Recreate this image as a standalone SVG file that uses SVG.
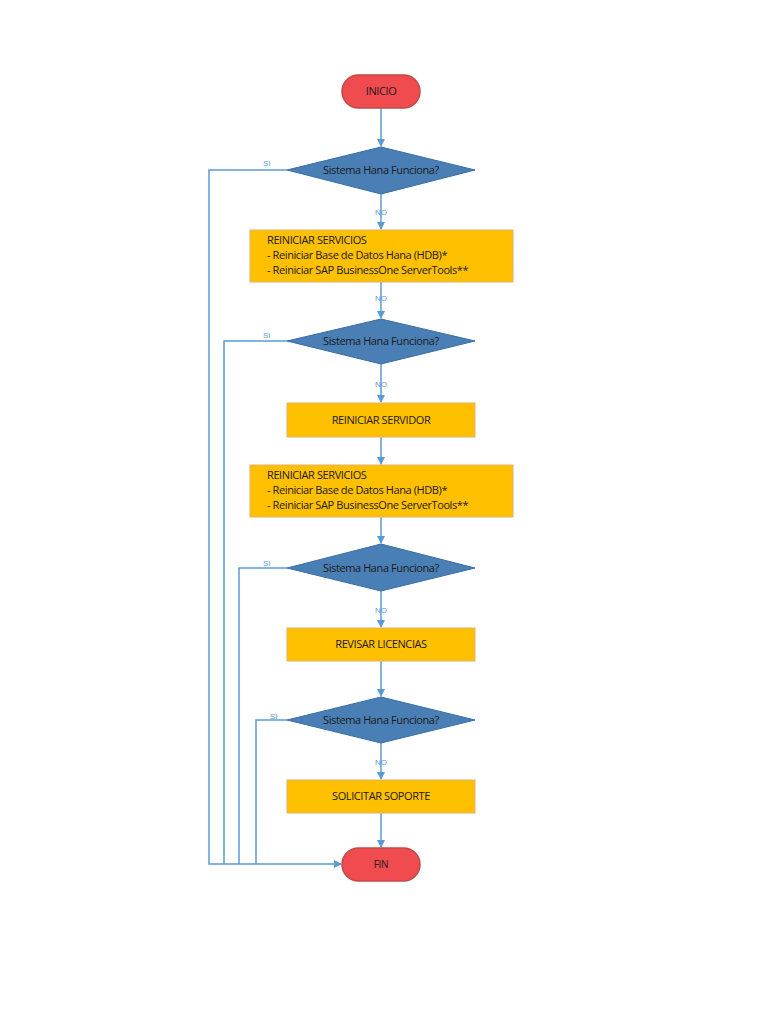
<svg xmlns="http://www.w3.org/2000/svg" width="768" height="1024" viewBox="0 0 768 1024">
<style>
.term{fill:#f04b4f;stroke:#be4b48;stroke-width:1.5}
.dia{fill:#4a7fb5;stroke:#3a6ea5;stroke-width:1}
.box{fill:#ffc000;stroke:#e0b070;stroke-width:1}
.t{font-family:"Open Sans","Liberation Sans",sans-serif;font-size:11px;fill:#1a1a1a;letter-spacing:-0.4px}
.c{text-anchor:middle}
.lbl{font-family:"Liberation Sans",sans-serif;font-size:8px;fill:#5b9bd5}
.ln{fill:none;stroke:#5b9bd5;stroke-width:1.5}
</style>
<defs><marker id="a" markerWidth="8" markerHeight="8" refX="7" refY="4" orient="auto" markerUnits="userSpaceOnUse"><path d="M0,0 L8,4 L0,8 z" fill="#5b9bd5"/></marker></defs>
<rect width="768" height="1024" fill="#fff"/>
<g id="connectors">
<path class="ln" d="M381,108 V146" marker-end="url(#a)"/>
<path class="ln" d="M381,194 V229" marker-end="url(#a)"/>
<path class="ln" d="M381,282 V318" marker-end="url(#a)"/>
<path class="ln" d="M381,364 V402" marker-end="url(#a)"/>
<path class="ln" d="M381,437 V464" marker-end="url(#a)"/>
<path class="ln" d="M381,517 V543" marker-end="url(#a)"/>
<path class="ln" d="M381,591 V627" marker-end="url(#a)"/>
<path class="ln" d="M381,661 V696" marker-end="url(#a)"/>
<path class="ln" d="M381,743 V779" marker-end="url(#a)"/>
<path class="ln" d="M381,813 V847" marker-end="url(#a)"/>
<path class="ln" d="M287,170 H209 V864 H341" marker-end="url(#a)"/>
<path class="ln" d="M287,341 H224 V864"/>
<path class="ln" d="M287,568 H239 V864"/>
<path class="ln" d="M287,720 H256 V864"/>
<text class="lbl" x="263" y="166">SI</text>
<text class="lbl" x="263" y="338">SI</text>
<text class="lbl" x="263" y="566">SI</text>
<text class="lbl" x="270" y="719">SI</text>
<g text-anchor="middle"><text class="lbl" x="381" y="215">NO</text><text class="lbl" x="381" y="301">NO</text><text class="lbl" x="381" y="387">NO</text><text class="lbl" x="381" y="613">NO</text><text class="lbl" x="381" y="765">NO</text></g>
</g>
<g id="inicio"><rect class="term" x="342" y="75" width="78" height="33" rx="16.5"/><text class="t c" x="381" y="95">INICIO</text></g>
<g id="d1"><polygon class="dia" points="381,147 475,170 381,194 287,170"/><text class="t c" x="381" y="174">Sistema Hana Funciona?</text></g>
<g id="b1"><rect class="box" x="250" y="230" width="263" height="52"/><text class="t" x="267" y="244">REINICIAR SERVICIOS</text><text class="t" x="267" y="259">- Reiniciar Base de Datos Hana (HDB)*</text><text class="t" x="267" y="274">- Reiniciar SAP BusinessOne ServerTools**</text></g>
<g id="d2"><polygon class="dia" points="381,319 475,341 381,364 287,341"/><text class="t c" x="381" y="345">Sistema Hana Funciona?</text></g>
<g id="b2"><rect class="box" x="287" y="403" width="188" height="34"/><text class="t c" x="381" y="424">REINICIAR SERVIDOR</text></g>
<g id="b3"><rect class="box" x="250" y="465" width="263" height="52"/><text class="t" x="267" y="479">REINICIAR SERVICIOS</text><text class="t" x="267" y="494">- Reiniciar Base de Datos Hana (HDB)*</text><text class="t" x="267" y="509">- Reiniciar SAP BusinessOne ServerTools**</text></g>
<g id="d3"><polygon class="dia" points="381,544 475,568 381,591 287,568"/><text class="t c" x="381" y="572">Sistema Hana Funciona?</text></g>
<g id="b4"><rect class="box" x="287" y="628" width="188" height="33"/><text class="t c" x="381" y="648">REVISAR LICENCIAS</text></g>
<g id="d4"><polygon class="dia" points="381,697 475,720 381,743 287,720"/><text class="t c" x="381" y="724">Sistema Hana Funciona?</text></g>
<g id="b5"><rect class="box" x="287" y="780" width="188" height="33"/><text class="t c" x="381" y="800">SOLICITAR SOPORTE</text></g>
<g id="fin"><rect class="term" x="342" y="848" width="78" height="33" rx="16.5"/><text class="t c" x="381" y="868" style="font-size:10px">FIN</text></g>
</svg>
